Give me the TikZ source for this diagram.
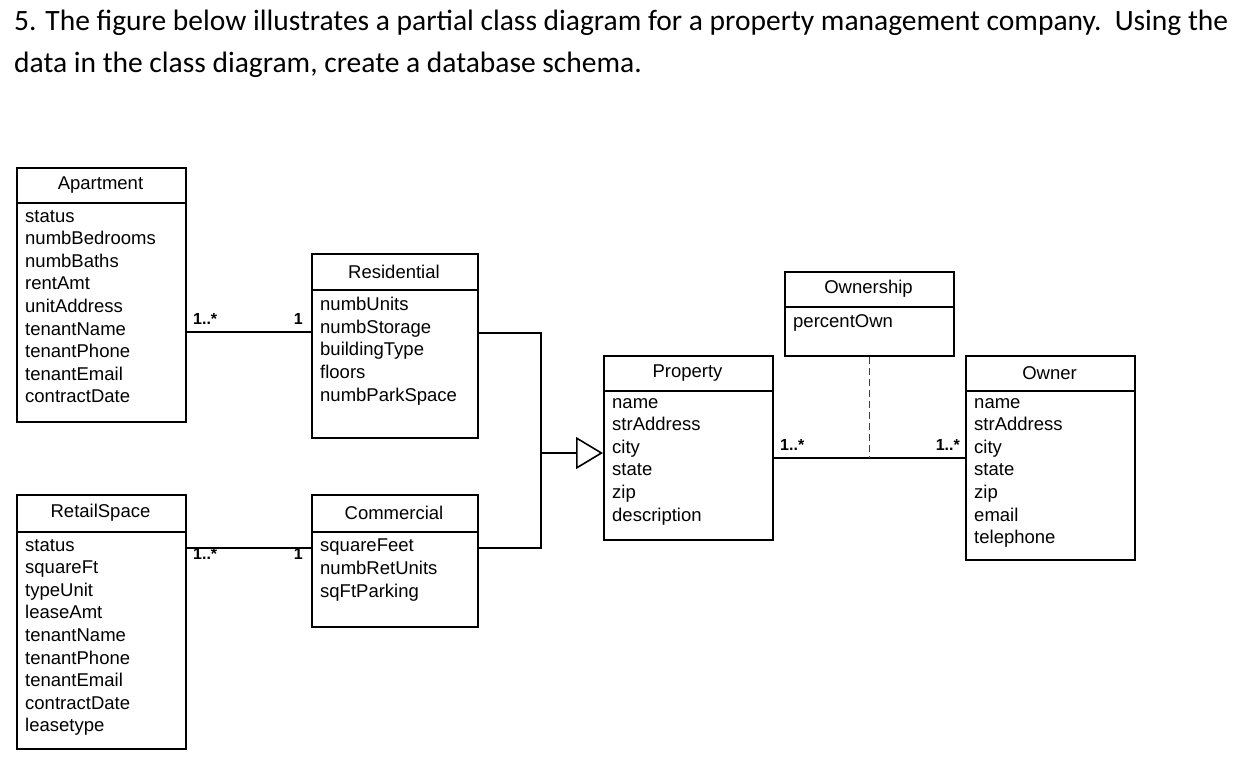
\documentclass[tikz,border=0pt]{standalone}
\usepackage{fontspec}
\setmainfont{Liberation Sans}
\newfontfamily\titlefont{Carlito}
\usetikzlibrary{arrows.meta,calc}
\newcommand\umlclass[8]{%
  \node[box,minimum width=#4,minimum height=#5] (#1) at (#2,#3) {};
  \draw[line width=1.6pt] (#2,#6) -- ++(#4,0);
  \node[hdr] (#1h) at ($(#2,#3)!0.5!(#2+#4,#6)$) {#7};
  \node[attrs] (#1a) at (#2+9,#6+7) {#8};}
\begin{document}
\begin{tikzpicture}[x=1pt,y=-1pt,
  box/.style={draw,line width=1.6pt,anchor=north west,inner sep=0pt},
  hdr/.style={font=\fontsize{18.5}{20}\selectfont,anchor=center},
  attrs/.style={font=\fontsize{18.5}{22.6}\selectfont,anchor=north west,align=left,inner sep=0pt},
  mult/.style={font=\fontsize{16}{18}\bfseries\selectfont,inner sep=0pt},
  conn/.style={line width=1.6pt}]
\useasboundingbox (0,0) rectangle (1260,780);
\node[font=\titlefont\fontsize{29.5}{42}\selectfont,anchor=north west,align=left,inner sep=0pt] (title) at (14,10)
 {5. The figure below illustrates a partial class diagram for a property management company.\ \ Using the\\data in the class diagram, create a database schema.};
\umlclass{apt}{16}{167}{169}{254}{203}{Apartment}{status\\numbBedrooms\\numbBaths\\rentAmt\\unitAddress\\tenantName\\tenantPhone\\tenantEmail\\contractDate}
\umlclass{res}{311}{253}{166}{184}{290}{Residential}{numbUnits\\numbStorage\\buildingType\\floors\\numbParkSpace}
\umlclass{ret}{16}{494}{169}{254}{532}{RetailSpace}{status\\squareFt\\typeUnit\\leaseAmt\\tenantName\\tenantPhone\\tenantEmail\\contractDate\\leasetype}
\umlclass{com}{311}{494}{166}{132}{532}{Commercial}{squareFeet\\numbRetUnits\\sqFtParking}
\umlclass{prop}{603}{355}{169}{184}{391}{Property}{name\\strAddress\\city\\state\\zip\\description}
\umlclass{own}{784}{271}{169}{84}{307}{Ownership}{percentOwn}
\umlclass{owner}{965}{355}{169}{204}{391}{Owner}{name\\strAddress\\city\\state\\zip\\email\\telephone}
\coordinate (j1) at (541,333);
\coordinate (j2) at (541,548);
\coordinate (jm) at (541,453);
\draw[conn] (apt.east |- 0,332) -- (res.west |- 0,332);
\draw[conn] (ret.east |- 0,548) -- (com.west |- 0,548);
\draw[conn] (res.east |- j1) -- (j1) -- (j2) -- (com.east |- j2);
\draw[conn,-{Triangle[open,length=27pt,width=32pt,line width=1.6pt]}] (jm) -- (prop.west |- jm);
\draw[conn] (prop.east |- 0,458) -- (owner.west |- 0,458);
\draw[line width=1.6pt,dash pattern=on 7pt off 4pt,black!75] (own.south) -- (own.south |- 0,458);
\node[mult,anchor=south west] (m1) at (193,325) {1..*};
\node[mult,anchor=south east] (m2) at (303,325) {1};
\node[mult,anchor=south west] (m3) at (193,560) {1..*};
\node[mult,anchor=south east] (m4) at (303,560) {1};
\node[mult,anchor=south west] (m5) at (780,451) {1..*};
\node[mult,anchor=south east] (m6) at (960,451) {1..*};
\end{tikzpicture}
\end{document}
